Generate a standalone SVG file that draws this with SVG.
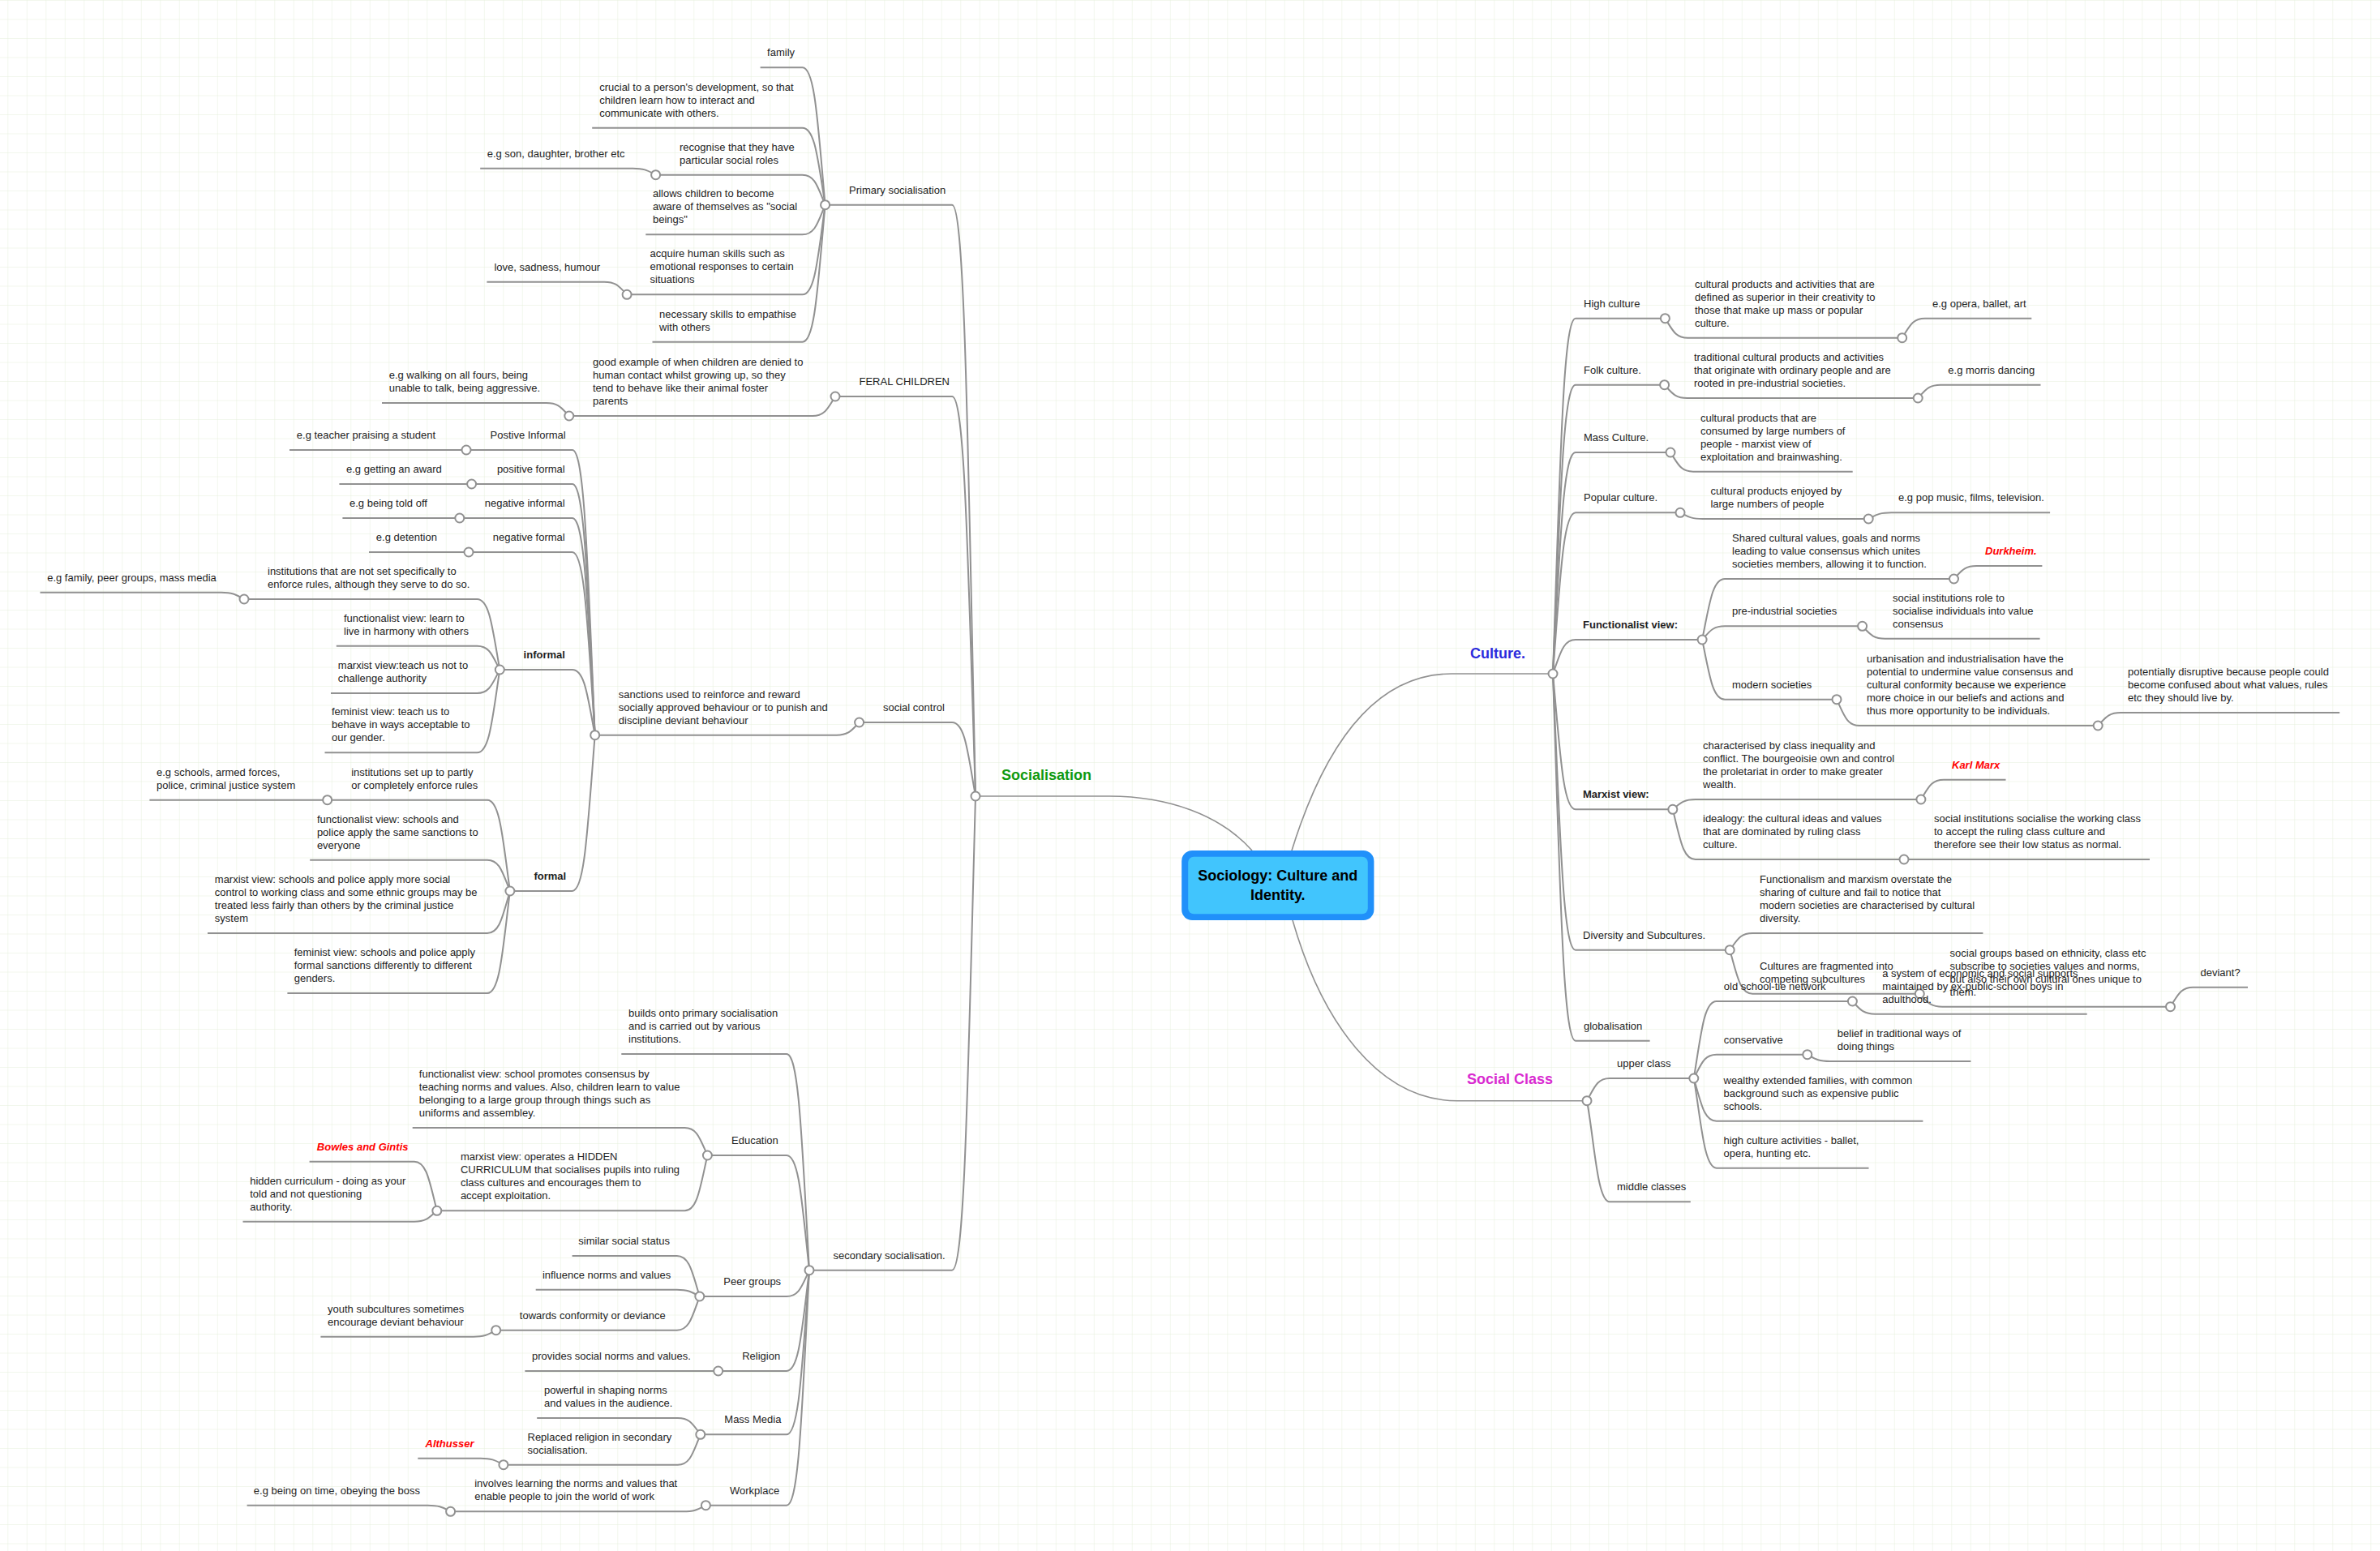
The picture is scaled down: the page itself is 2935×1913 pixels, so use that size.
<svg xmlns="http://www.w3.org/2000/svg" width="2935" height="1913" viewBox="0 0 2935 1913">
<style>
.ln{fill:none;stroke:#919191;stroke-width:2}
.mn{fill:none;stroke:#919191;stroke-width:1.6}
.dot{fill:#fff;stroke:#919191;stroke-width:2}
.t{font-family:"Liberation Sans",Arial,sans-serif;font-size:13px;fill:#1e1e1e}
.b{font-weight:bold}
.r{font-weight:bold;font-style:italic;fill:#ff0000}
.br{font-family:"Liberation Sans",Arial,sans-serif;font-size:18px;font-weight:bold}
</style>
<defs>
<pattern id="grid" width="23.5" height="23.5" patternUnits="userSpaceOnUse" patternTransform="translate(9.3,0)">
<path d="M23.5 0 L0 0 0 23.5" fill="none" stroke="#e5efdb" stroke-width="1"/>
</pattern>
</defs>
<rect width="2935" height="1913" fill="#fff"/>
<rect width="2935" height="1913" fill="url(#grid)"/>

<g id="connectors">
<path class="mn" d="M1203,982 H1368 C1440,982 1505,1005 1544,1049"/>
<path class="mn" d="M1915,831 H1790 C1690,831 1630,930 1593,1049"/>
<path class="mn" d="M1957,1357.7 H1797 C1700,1357.7 1630,1260 1594,1135"/>

<path class="ln" d="M1017.6,252.7 H1174 C1190,252.7 1193.4,544.4 1203,982"/>
<path class="ln" d="M1030,489 H1174 C1190,489 1193.4,686.2 1203,982"/>
<path class="ln" d="M1059.6,891 H1174 C1190,891 1193.4,927.4 1203,982"/>
<path class="ln" d="M998,1566.7 H1174 C1190,1566.7 1193.4,1332.8 1203,982"/>

<path class="ln" d="M937.6,83.3 H989.6 C1005,83.3 1008.4,151.1 1017.6,252.7"/>
<path class="ln" d="M730.2,157.7 H989.6 C1005,157.7 1008.4,195.7 1017.6,252.7"/>
<path class="ln" d="M808.6,215.7 H989.6 C1005,215.7 1008.4,230.5 1017.6,252.7"/>
<path class="ln" d="M796.3,289.3 H989.6 C1005,289.3 1008.4,274.7 1017.6,252.7"/>
<path class="ln" d="M773.1,363.3 H989.6 C1005,363.3 1008.4,319.1 1017.6,252.7"/>
<path class="ln" d="M804.5,421.7 H989.6 C1005,421.7 1008.4,354.1 1017.6,252.7"/>
<path class="ln" d="M592.2,207.7 H780.6 C796,207.7 799.4,210.9 808.6,215.7"/>
<path class="ln" d="M600.4,347.7 H745.1 C760.5,347.7 763.9,353.9 773.1,363.3"/>

<path class="ln" d="M701.8,513 H1002 C1017.4,513 1020.8,503.4 1030,489"/>
<path class="ln" d="M471,497 H673.8 C689.2,497 692.6,503.4 701.8,513"/>

<path class="ln" d="M733.7,906.7 H1031.6 C1047,906.7 1050.4,900.4 1059.6,891"/>
<path class="ln" d="M575,555 H705.7 C721.1,555 724.5,695.7 733.7,906.7"/>
<path class="ln" d="M581.6,597 H705.7 C721.1,597 724.5,720.9 733.7,906.7"/>
<path class="ln" d="M566.8,639 H705.7 C721.1,639 724.5,746.1 733.7,906.7"/>
<path class="ln" d="M578,681 H705.7 C721.1,681 724.5,771.3 733.7,906.7"/>
<path class="ln" d="M616.3,826 H705.7 C721.1,826 724.5,858.3 733.7,906.7"/>
<path class="ln" d="M628.9,1099 H705.7 C721.1,1099 724.5,1022.1 733.7,906.7"/>
<path class="ln" d="M357,555 H575"/>
<path class="ln" d="M418.4,597 H581.6"/>
<path class="ln" d="M422.4,639 H566.8"/>
<path class="ln" d="M455,681 H578"/>

<path class="ln" d="M301,739 H588.3 C603.7,739 607.1,773.8 616.3,826"/>
<path class="ln" d="M414.8,796.7 H588.3 C603.7,796.7 607.1,808.4 616.3,826"/>
<path class="ln" d="M408,855 H588.3 C603.7,855 607.1,843.4 616.3,826"/>
<path class="ln" d="M400.5,928.3 H588.3 C603.7,928.3 607.1,887.4 616.3,826"/>
<path class="ln" d="M49.5,730.7 H273 C288.4,730.7 291.8,734 301,739"/>

<path class="ln" d="M403.7,986.7 H600.9 C616.3,986.7 619.7,1031.6 628.9,1099"/>
<path class="ln" d="M382.2,1060.7 H600.9 C616.3,1060.7 619.7,1076 628.9,1099"/>
<path class="ln" d="M256,1151 H600.9 C616.3,1151 619.7,1130.2 628.9,1099"/>
<path class="ln" d="M354.4,1225 H600.9 C616.3,1225 619.7,1174.6 628.9,1099"/>
<path class="ln" d="M184.4,986.7 H403.7"/>

<path class="ln" d="M766.3,1300 H970 C985.4,1300 988.8,1406.7 998,1566.7"/>
<path class="ln" d="M872.4,1425 H970 C985.4,1425 988.8,1481.7 998,1566.7"/>
<path class="ln" d="M862.8,1599 H970 C985.4,1599 988.8,1586.1 998,1566.7"/>
<path class="ln" d="M885.7,1691 H970 C985.4,1691 988.8,1641.3 998,1566.7"/>
<path class="ln" d="M863.8,1769.3 H970 C985.4,1769.3 988.8,1688.3 998,1566.7"/>
<path class="ln" d="M870.4,1856.7 H970 C985.4,1856.7 988.8,1740.7 998,1566.7"/>
<path class="ln" d="M508.7,1391 H844.4 C859.8,1391 863.2,1404.6 872.4,1425"/>
<path class="ln" d="M538.8,1493.3 H844.4 C859.8,1493.3 863.2,1466 872.4,1425"/>
<path class="ln" d="M381.6,1432.7 H510.8 C526.2,1432.7 529.6,1456.9 538.8,1493.3"/>
<path class="ln" d="M299.5,1506.7 H510.8 C526.2,1506.7 529.6,1501.3 538.8,1493.3"/>
<path class="ln" d="M705.6,1549 H834.8 C850.2,1549 853.6,1569 862.8,1599"/>
<path class="ln" d="M660.7,1590.7 H834.8 C850.2,1590.7 853.6,1594 862.8,1599"/>
<path class="ln" d="M611.7,1640.7 H834.8 C850.2,1640.7 853.6,1624 862.8,1599"/>
<path class="ln" d="M395.4,1648.7 H583.7 C599.1,1648.7 602.5,1645.5 611.7,1640.7"/>
<path class="ln" d="M647.4,1691 H885.7"/>
<path class="ln" d="M662.2,1749 H835.8 C851.2,1749 854.6,1757.1 863.8,1769.3"/>
<path class="ln" d="M620.9,1806.7 H835.8 C851.2,1806.7 854.6,1791.7 863.8,1769.3"/>
<path class="ln" d="M515.3,1798.7 H592.9 C608.3,1798.7 611.7,1801.9 620.9,1806.7"/>
<path class="ln" d="M555.6,1864.3 H842.4 C857.8,1864.3 861.2,1861.3 870.4,1856.7"/>
<path class="ln" d="M304.6,1856.7 H527.6 C543,1856.7 546.4,1859.7 555.6,1864.3"/>

<path class="ln" d="M2053.4,392.7 H1943 C1927.6,392.7 1924.2,568 1915,831"/>
<path class="ln" d="M2052.6,474.7 H1943 C1927.6,474.7 1924.2,617.2 1915,831"/>
<path class="ln" d="M2060,558 H1943 C1927.6,558 1924.2,667.2 1915,831"/>
<path class="ln" d="M2072,632.3 H1943 C1927.6,632.3 1924.2,711.8 1915,831"/>
<path class="ln" d="M2099.1,789 H1943 C1927.6,789 1924.2,805.8 1915,831"/>
<path class="ln" d="M2062.8,998.3 H1943 C1927.6,998.3 1924.2,931.4 1915,831"/>
<path class="ln" d="M2133.2,1171.7 H1943 C1927.6,1171.7 1924.2,1035.3 1915,831"/>
<path class="ln" d="M2034.6,1283.7 H1943 C1927.6,1283.7 1924.2,1102.6 1915,831"/>

<path class="ln" d="M2345.7,416.7 H2081.4 C2066,416.7 2062.6,407.1 2053.4,392.7"/>
<path class="ln" d="M2505.3,392.7 H2373.7 C2358.3,392.7 2354.9,402.3 2345.7,416.7"/>
<path class="ln" d="M2365.2,491 H2080.6 C2065.2,491 2061.8,484.5 2052.6,474.7"/>
<path class="ln" d="M2516.5,474.7 H2393.2 C2377.8,474.7 2374.4,481.2 2365.2,491"/>
<path class="ln" d="M2284.7,581.7 H2088 C2072.6,581.7 2069.2,572.2 2060,558"/>
<path class="ln" d="M2304.2,640 H2100 C2084.6,640 2081.2,636.9 2072,632.3"/>
<path class="ln" d="M2528.1,632.3 H2332.2 C2316.8,632.3 2313.4,635.4 2304.2,640"/>

<path class="ln" d="M2409.5,714 H2127.1 C2111.7,714 2108.3,744 2099.1,789"/>
<path class="ln" d="M2296.6,772.3 H2127.1 C2111.7,772.3 2108.3,779 2099.1,789"/>
<path class="ln" d="M2265,862.7 H2127.1 C2111.7,862.7 2108.3,833.2 2099.1,789"/>
<path class="ln" d="M2518.4,698 H2437.5 C2422.1,698 2418.7,704.4 2409.5,714"/>
<path class="ln" d="M2515.6,787.7 H2324.6 C2309.2,787.7 2305.8,781.5 2296.6,772.3"/>
<path class="ln" d="M2587.2,895 H2293 C2277.6,895 2274.2,882.1 2265,862.7"/>
<path class="ln" d="M2885.2,879 H2615.2 C2599.8,879 2596.4,885.4 2587.2,895"/>

<path class="ln" d="M2368.9,986 H2090.8 C2075.4,986 2072,990.9 2062.8,998.3"/>
<path class="ln" d="M2348,1060 H2090.8 C2075.4,1060 2072,1035.3 2062.8,998.3"/>
<path class="ln" d="M2473.5,961.7 H2396.9 C2381.5,961.7 2378.1,971.4 2368.9,986"/>
<path class="ln" d="M2651,1060 H2348"/>

<path class="ln" d="M2445.4,1151 H2161.2 C2145.8,1151 2142.4,1159.3 2133.2,1171.7"/>
<path class="ln" d="M2367.3,1225.7 H2161.2 C2145.8,1225.7 2142.4,1204.1 2133.2,1171.7"/>
<path class="ln" d="M2676.5,1241.7 H2395.3 C2379.9,1241.7 2376.5,1235.3 2367.3,1225.7"/>
<path class="ln" d="M2772,1217.7 H2704.5 C2689.1,1217.7 2685.7,1227.3 2676.5,1241.7"/>

<path class="ln" d="M2088.8,1330 H1985 C1969.6,1330 1966.2,1341.1 1957,1357.7"/>
<path class="ln" d="M2084.8,1482.3 H1985 C1969.6,1482.3 1966.2,1407.5 1957,1357.7"/>
<path class="ln" d="M2284.4,1235 H2116.8 C2101.4,1235 2098,1273 2088.8,1330"/>
<path class="ln" d="M2228.8,1300.7 H2116.8 C2101.4,1300.7 2098,1312.4 2088.8,1330"/>
<path class="ln" d="M2371.4,1382.7 H2116.8 C2101.4,1382.7 2098,1361.6 2088.8,1330"/>
<path class="ln" d="M2304.5,1440.7 H2116.8 C2101.4,1440.7 2098,1384.3 2088.8,1330"/>
<path class="ln" d="M2573.7,1250.7 H2312.4 C2297,1250.7 2293.6,1244.4 2284.4,1235"/>
<path class="ln" d="M2430.4,1309 H2256.8 C2241.4,1309 2238,1305.7 2228.8,1300.7"/>
</g>

<g id="root">
<rect x="1457.2" y="1049" width="237.2" height="86" rx="13" fill="#2090fa"/>
<rect x="1465.2" y="1056.7" width="221.6" height="70.6" rx="7" fill="#41c5fd"/>
<text class="br" text-anchor="middle" fill="#000"><tspan x="1575.8" y="1086">Sociology: Culture and</tspan><tspan x="1575.8" y="1110">Identity.</tspan></text>
</g>

<g id="n-socialisation"><text class="br" x="1235" y="962" fill="#109a10">Socialisation</text><circle class="dot" cx="1203" cy="982" r="5.5"/></g>
<g id="n-culture"><text class="br" x="1881" y="812" text-anchor="end" fill="#2b2bdc">Culture.</text><circle class="dot" cx="1915" cy="831" r="5.5"/></g>
<g id="n-socialclass"><text class="br" x="1915" y="1337" text-anchor="end" fill="#d92bd0">Social Class</text><circle class="dot" cx="1957" cy="1357.7" r="5.5"/></g>

<g id="n-primary"><text class="t" x="1047" y="238.7">Primary socialisation</text><circle class="dot" cx="1017.6" cy="252.7" r="5.5"/></g>
<g id="n-family"><text class="t" x="946.1" y="69.3">family</text></g>
<g id="n-crucial"><text class="t"><tspan x="739.2" y="111.7">crucial to a person's development, so that</tspan><tspan x="739.2" y="127.7">children learn how to interact and</tspan><tspan x="739.2" y="143.7">communicate with others.</tspan></text></g>
<g id="n-recognise"><text class="t"><tspan x="838" y="185.7">recognise that they have</tspan><tspan x="838" y="201.7">particular social roles</tspan></text><circle class="dot" cx="808.6" cy="215.7" r="5.5"/></g>
<g id="n-son"><text class="t" x="600.7" y="193.7">e.g son, daughter, brother etc</text></g>
<g id="n-allows"><text class="t"><tspan x="805" y="243.3">allows children to become</tspan><tspan x="805" y="259.3">aware of themselves as "social</tspan><tspan x="805" y="275.3">beings"</tspan></text></g>
<g id="n-acquire"><text class="t"><tspan x="801.6" y="317.3">acquire human skills such as</tspan><tspan x="801.6" y="333.3">emotional responses to certain</tspan><tspan x="801.6" y="349.3">situations</tspan></text><circle class="dot" cx="773.1" cy="363.3" r="5.5"/></g>
<g id="n-love"><text class="t" x="609.4" y="333.7">love, sadness, humour</text></g>
<g id="n-necessary"><text class="t"><tspan x="813" y="391.7">necessary skills to empathise</tspan><tspan x="813" y="407.7">with others</tspan></text></g>

<g id="n-feral"><text class="t" x="1059.5" y="475">FERAL CHILDREN</text><circle class="dot" cx="1030" cy="489" r="5.5"/></g>
<g id="n-goodexample"><text class="t"><tspan x="731" y="451">good example of when children are denied to</tspan><tspan x="731" y="467">human contact whilst growing up, so they</tspan><tspan x="731" y="483">tend to behave like their animal foster</tspan><tspan x="731" y="499">parents</tspan></text><circle class="dot" cx="701.8" cy="513" r="5.5"/></g>
<g id="n-walking"><text class="t"><tspan x="479.7" y="467">e.g walking on all fours, being</tspan><tspan x="479.7" y="483">unable to talk, being aggressive.</tspan></text></g>

<g id="n-socialcontrol"><text class="t" x="1089" y="877">social control</text><circle class="dot" cx="1059.6" cy="891" r="5.5"/></g>
<g id="n-sanctions"><text class="t"><tspan x="762.8" y="860.7">sanctions used to reinforce and reward</tspan><tspan x="762.8" y="876.7">socially approved behaviour or to punish and</tspan><tspan x="762.8" y="892.7">discipline deviant behaviour</tspan></text><circle class="dot" cx="733.7" cy="906.7" r="5.5"/></g>
<g id="n-posinf"><text class="t" x="604.5" y="541">Postive Informal</text><circle class="dot" cx="575" cy="555" r="5.5"/></g>
<g id="n-teacher"><text class="t" x="365.8" y="541">e.g teacher praising a student</text></g>
<g id="n-posform"><text class="t" x="696.7" y="583" text-anchor="end">positive formal</text><circle class="dot" cx="581.6" cy="597" r="5.5"/></g>
<g id="n-award"><text class="t" x="427" y="583">e.g getting an award</text></g>
<g id="n-neginf"><text class="t" x="696.7" y="625" text-anchor="end">negative informal</text><circle class="dot" cx="566.8" cy="639" r="5.5"/></g>
<g id="n-toldoff"><text class="t" x="431" y="625">e.g being told off</text></g>
<g id="n-negform"><text class="t" x="696.7" y="667" text-anchor="end">negative formal</text><circle class="dot" cx="578" cy="681" r="5.5"/></g>
<g id="n-detention"><text class="t" x="463.8" y="667">e.g detention</text></g>

<g id="n-informal"><text class="t b" x="645.6" y="812">informal</text><circle class="dot" cx="616.3" cy="826" r="5.5"/></g>
<g id="n-instnotset"><text class="t"><tspan x="330" y="709">institutions that are not set specifically to</tspan><tspan x="330" y="725">enforce rules, although they serve to do so.</tspan></text><circle class="dot" cx="301" cy="739" r="5.5"/></g>
<g id="n-fampeer"><text class="t" x="58.2" y="716.7">e.g family, peer groups, mass media</text></g>
<g id="n-funclearn"><text class="t"><tspan x="424" y="766.7">functionalist view: learn to</tspan><tspan x="424" y="782.7">live in harmony with others</tspan></text></g>
<g id="n-marxteach"><text class="t"><tspan x="416.8" y="825">marxist view:teach us not to</tspan><tspan x="416.8" y="841">challenge authority</tspan></text></g>
<g id="n-femteach"><text class="t"><tspan x="409" y="882.3">feminist view: teach us to</tspan><tspan x="409" y="898.3">behave in ways acceptable to</tspan><tspan x="409" y="914.3">our gender.</tspan></text></g>

<g id="n-formal"><text class="t b" x="658.4" y="1085">formal</text><circle class="dot" cx="628.9" cy="1099" r="5.5"/></g>
<g id="n-instsetup"><text class="t"><tspan x="433.2" y="956.7">institutions set up to partly</tspan><tspan x="433.2" y="972.7">or completely enforce rules</tspan></text><circle class="dot" cx="403.7" cy="986.7" r="5.5"/></g>
<g id="n-schools"><text class="t"><tspan x="193" y="956.7">e.g schools, armed forces,</tspan><tspan x="193" y="972.7">police, criminal justice system</tspan></text></g>
<g id="n-funcschools"><text class="t"><tspan x="390.9" y="1014.7">functionalist view: schools and</tspan><tspan x="390.9" y="1030.7">police apply the same sanctions to</tspan><tspan x="390.9" y="1046.7">everyone</tspan></text></g>
<g id="n-marxschools"><text class="t"><tspan x="264.8" y="1089">marxist view: schools and police apply more social</tspan><tspan x="264.8" y="1105">control to working class and some ethnic groups may be</tspan><tspan x="264.8" y="1121">treated less fairly than others by the criminal justice</tspan><tspan x="264.8" y="1137">system</tspan></text></g>
<g id="n-femschools"><text class="t"><tspan x="362.7" y="1179">feminist view: schools and police apply</tspan><tspan x="362.7" y="1195">formal sanctions differently to different</tspan><tspan x="362.7" y="1211">genders.</tspan></text></g>

<g id="n-secondary"><text class="t" x="1027.5" y="1552.7">secondary socialisation.</text><circle class="dot" cx="998" cy="1566.7" r="5.5"/></g>
<g id="n-builds"><text class="t"><tspan x="775" y="1254">builds onto primary socialisation</tspan><tspan x="775" y="1270">and is carried out by various</tspan><tspan x="775" y="1286">institutions.</tspan></text></g>
<g id="n-education"><text class="t" x="902" y="1411">Education</text><circle class="dot" cx="872.4" cy="1425" r="5.5"/></g>
<g id="n-funcschool"><text class="t"><tspan x="516.8" y="1329">functionalist view: school promotes consensus by</tspan><tspan x="516.8" y="1345">teaching norms and values. Also, children learn to value</tspan><tspan x="516.8" y="1361">belonging to a large group through things such as</tspan><tspan x="516.8" y="1377">uniforms and assembley.</tspan></text></g>
<g id="n-hidden"><text class="t"><tspan x="567.9" y="1431.3">marxist view: operates a HIDDEN</tspan><tspan x="567.9" y="1447.3">CURRICULUM that socialises pupils into ruling</tspan><tspan x="567.9" y="1463.3">class cultures and encourages them to</tspan><tspan x="567.9" y="1479.3">accept exploitation.</tspan></text><circle class="dot" cx="538.8" cy="1493.3" r="5.5"/></g>
<g id="n-bowles"><text class="t r" x="390.8" y="1418.7">Bowles and Gintis</text></g>
<g id="n-hiddencurr"><text class="t"><tspan x="308.2" y="1460.7">hidden curriculum - doing as your</tspan><tspan x="308.2" y="1476.7">told and not questioning</tspan><tspan x="308.2" y="1492.7">authority.</tspan></text></g>
<g id="n-peer"><text class="t" x="892.3" y="1585">Peer groups</text><circle class="dot" cx="862.8" cy="1599" r="5.5"/></g>
<g id="n-similar"><text class="t" x="713.3" y="1535">similar social status</text></g>
<g id="n-influence"><text class="t" x="668.9" y="1576.7">influence norms and values</text></g>
<g id="n-towards"><text class="t" x="640.8" y="1626.7">towards conformity or deviance</text><circle class="dot" cx="611.7" cy="1640.7" r="5.5"/></g>
<g id="n-youth"><text class="t"><tspan x="404" y="1618.7">youth subcultures sometimes</tspan><tspan x="404" y="1634.7">encourage deviant behaviour</tspan></text></g>
<g id="n-religion"><text class="t" x="915.2" y="1677">Religion</text><circle class="dot" cx="885.7" cy="1691" r="5.5"/></g>
<g id="n-provides"><text class="t" x="656" y="1677">provides social norms and values.</text></g>
<g id="n-massmedia"><text class="t" x="893.3" y="1755.3">Mass Media</text><circle class="dot" cx="863.8" cy="1769.3" r="5.5"/></g>
<g id="n-powerful"><text class="t"><tspan x="671" y="1719">powerful in shaping norms</tspan><tspan x="671" y="1735">and values in the audience.</tspan></text></g>
<g id="n-replaced"><text class="t"><tspan x="650.5" y="1776.7">Replaced religion in secondary</tspan><tspan x="650.5" y="1792.7">socialisation.</tspan></text><circle class="dot" cx="620.9" cy="1806.7" r="5.5"/></g>
<g id="n-althusser"><text class="t r" x="524.5" y="1784.7">Althusser</text></g>
<g id="n-workplace"><text class="t" x="900" y="1842.7">Workplace</text><circle class="dot" cx="870.4" cy="1856.7" r="5.5"/></g>
<g id="n-involves"><text class="t"><tspan x="585.2" y="1834.3">involves learning the norms and values that</tspan><tspan x="585.2" y="1850.3">enable people to join the world of work</tspan></text><circle class="dot" cx="555.6" cy="1864.3" r="5.5"/></g>
<g id="n-ontime"><text class="t" x="312.8" y="1842.7">e.g being on time, obeying the boss</text></g>

<g id="n-high"><text class="t" x="1953" y="378.7">High culture</text><circle class="dot" cx="2053.4" cy="392.7" r="5.5"/></g>
<g id="n-superior"><text class="t"><tspan x="2090" y="354.7">cultural products and activities that are</tspan><tspan x="2090" y="370.7">defined as superior in their creativity to</tspan><tspan x="2090" y="386.7">those that make up mass or popular</tspan><tspan x="2090" y="402.7">culture.</tspan></text><circle class="dot" cx="2345.7" cy="416.7" r="5.5"/></g>
<g id="n-opera"><text class="t" x="2383" y="378.7">e.g opera, ballet, art</text></g>
<g id="n-folk"><text class="t" x="1953" y="460.7">Folk culture.</text><circle class="dot" cx="2052.6" cy="474.7" r="5.5"/></g>
<g id="n-traditional"><text class="t"><tspan x="2089" y="445">traditional cultural products and activities</tspan><tspan x="2089" y="461">that originate with ordinary people and are</tspan><tspan x="2089" y="477">rooted in pre-industrial societies.</tspan></text><circle class="dot" cx="2365.2" cy="491" r="5.5"/></g>
<g id="n-morris"><text class="t" x="2402.3" y="460.7">e.g morris dancing</text></g>
<g id="n-mass"><text class="t" x="1953" y="544">Mass Culture.</text><circle class="dot" cx="2060" cy="558" r="5.5"/></g>
<g id="n-consumed"><text class="t"><tspan x="2097" y="519.7">cultural products that are</tspan><tspan x="2097" y="535.7">consumed by large numbers of</tspan><tspan x="2097" y="551.7">people - marxist view of</tspan><tspan x="2097" y="567.7">exploitation and brainwashing.</tspan></text></g>
<g id="n-popular"><text class="t" x="1953" y="618.3">Popular culture.</text><circle class="dot" cx="2072" cy="632.3" r="5.5"/></g>
<g id="n-enjoyed"><text class="t"><tspan x="2109.4" y="610">cultural products enjoyed by</tspan><tspan x="2109.4" y="626">large numbers of people</tspan></text><circle class="dot" cx="2304.2" cy="640" r="5.5"/></g>
<g id="n-popmusic"><text class="t" x="2341" y="618.3">e.g pop music, films, television.</text></g>

<g id="n-functionalist"><text class="t b" x="1952" y="775">Functionalist view:</text><circle class="dot" cx="2099.1" cy="789" r="5.5"/></g>
<g id="n-shared"><text class="t"><tspan x="2136" y="668">Shared cultural values, goals and norms</tspan><tspan x="2136" y="684">leading to value consensus which unites</tspan><tspan x="2136" y="700">societies members, allowing it to function.</tspan></text><circle class="dot" cx="2409.5" cy="714" r="5.5"/></g>
<g id="n-durkheim"><text class="t r" x="2448" y="684">Durkheim.</text></g>
<g id="n-preind"><text class="t" x="2136" y="758.3">pre-industrial societies</text><circle class="dot" cx="2296.6" cy="772.3" r="5.5"/></g>
<g id="n-role"><text class="t"><tspan x="2334" y="741.7">social institutions role to</tspan><tspan x="2334" y="757.7">socialise individuals into value</tspan><tspan x="2334" y="773.7">consensus</tspan></text></g>
<g id="n-modern"><text class="t" x="2136" y="848.7">modern societies</text><circle class="dot" cx="2265" cy="862.7" r="5.5"/></g>
<g id="n-urban"><text class="t"><tspan x="2302" y="817">urbanisation and industrialisation have the</tspan><tspan x="2302" y="833">potential to undermine value consensus and</tspan><tspan x="2302" y="849">cultural conformity because we experience</tspan><tspan x="2302" y="865">more choice in our beliefs and actions and</tspan><tspan x="2302" y="881">thus more opportunity to be individuals.</tspan></text><circle class="dot" cx="2587.2" cy="895" r="5.5"/></g>
<g id="n-disruptive"><text class="t"><tspan x="2624" y="833">potentially disruptive because people could</tspan><tspan x="2624" y="849">become confused about what values, rules</tspan><tspan x="2624" y="865">etc they should live by.</tspan></text></g>

<g id="n-marxist"><text class="t b" x="1952" y="984.3">Marxist view:</text><circle class="dot" cx="2062.8" cy="998.3" r="5.5"/></g>
<g id="n-characterised"><text class="t"><tspan x="2100" y="924">characterised by class inequality and</tspan><tspan x="2100" y="940">conflict. The bourgeoisie own and control</tspan><tspan x="2100" y="956">the proletariat in order to make greater</tspan><tspan x="2100" y="972">wealth.</tspan></text><circle class="dot" cx="2368.9" cy="986" r="5.5"/></g>
<g id="n-karlmarx"><text class="t r" x="2407" y="947.7">Karl Marx</text></g>
<g id="n-idealogy"><text class="t"><tspan x="2100" y="1014">idealogy: the cultural ideas and values</tspan><tspan x="2100" y="1030">that are dominated by ruling class</tspan><tspan x="2100" y="1046">culture.</tspan></text><circle class="dot" cx="2348" cy="1060" r="5.5"/></g>
<g id="n-socialise"><text class="t"><tspan x="2385" y="1014">social institutions socialise the working class</tspan><tspan x="2385" y="1030">to accept the ruling class culture and</tspan><tspan x="2385" y="1046">therefore see their low status as normal.</tspan></text></g>

<g id="n-diversity"><text class="t" x="1952" y="1157.7">Diversity and Subcultures.</text><circle class="dot" cx="2133.2" cy="1171.7" r="5.5"/></g>
<g id="n-overstate"><text class="t"><tspan x="2170" y="1089">Functionalism and marxism overstate the</tspan><tspan x="2170" y="1105">sharing of culture and fail to notice that</tspan><tspan x="2170" y="1121">modern societies are characterised by cultural</tspan><tspan x="2170" y="1137">diversity.</tspan></text></g>
<g id="n-fragmented"><text class="t"><tspan x="2170" y="1195.7">Cultures are fragmented into</tspan><tspan x="2170" y="1211.7">competing subcultures</tspan></text><circle class="dot" cx="2367.3" cy="1225.7" r="5.5"/></g>
<g id="n-groups"><text class="t"><tspan x="2404.6" y="1179.7">social groups based on ethnicity, class etc</tspan><tspan x="2404.6" y="1195.7">subscribe to societies values and norms,</tspan><tspan x="2404.6" y="1211.7">but also their own cultural ones unique to</tspan><tspan x="2404.6" y="1227.7">them.</tspan></text><circle class="dot" cx="2676.5" cy="1241.7" r="5.5"/></g>
<g id="n-deviant"><text class="t" x="2713.5" y="1203.7">deviant?</text></g>
<g id="n-globalisation"><text class="t" x="1953" y="1269.7">globalisation</text></g>

<g id="n-upper"><text class="t" x="1994" y="1316">upper class</text><circle class="dot" cx="2088.8" cy="1330" r="5.5"/></g>
<g id="n-oldschool"><text class="t" x="2125.8" y="1221">old school-tie network</text><circle class="dot" cx="2284.4" cy="1235" r="5.5"/></g>
<g id="n-system"><text class="t"><tspan x="2321.2" y="1204.7">a system of economic and social supports</tspan><tspan x="2321.2" y="1220.7">maintained by ex-public-school boys in</tspan><tspan x="2321.2" y="1236.7">adulthood.</tspan></text></g>
<g id="n-conservative"><text class="t" x="2125.8" y="1286.7">conservative</text><circle class="dot" cx="2228.8" cy="1300.7" r="5.5"/></g>
<g id="n-belief"><text class="t"><tspan x="2265.8" y="1279">belief in traditional ways of</tspan><tspan x="2265.8" y="1295">doing things</tspan></text></g>
<g id="n-wealthy"><text class="t"><tspan x="2125.5" y="1336.7">wealthy extended families, with common</tspan><tspan x="2125.5" y="1352.7">background such as expensive public</tspan><tspan x="2125.5" y="1368.7">schools.</tspan></text></g>
<g id="n-highact"><text class="t"><tspan x="2125.5" y="1410.7">high culture activities - ballet,</tspan><tspan x="2125.5" y="1426.7">opera, hunting etc.</tspan></text></g>
<g id="n-middle"><text class="t" x="1994" y="1468.3">middle classes</text></g>
</svg>
